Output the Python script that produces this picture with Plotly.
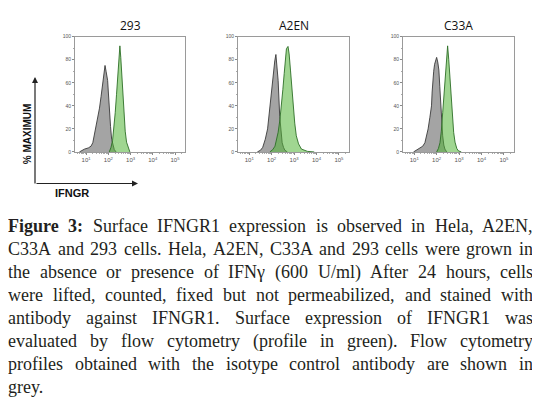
import plotly.graph_objects as go

# panels: cell line names
panels = ["293", "A2EN", "C33A"]

# isotype control profiles (grey), fluorescence intensity vs % of max
iso_x = [
    [5, 8.5, 12.6, 16.6, 20, 23.4, 26, 33, 40, 47, 56, 63, 71, 79, 93, 100, 110, 126, 141, 158, 186, 224],
    [23, 32, 40, 52, 66, 83, 100, 117, 138, 155, 174, 195, 229, 263, 295, 339, 389, 501],
    [9.3, 12.6, 18.2, 24, 30, 35.5, 41.7, 50, 59, 63, 69, 74, 81, 89, 100, 112, 126, 138, 151, 166, 186, 209, 234, 282],
]
iso_y = [
    [0, 2.5, 3.5, 5, 8, 14.5, 17, 28, 38, 48, 58, 68, 75, 70, 62, 52, 37, 22, 11, 6, 2, 0],
    [0, 1.5, 4, 11, 20, 40, 55, 68, 79, 84.5, 75, 62, 31, 17, 8, 4, 1.5, 0],
    [0, 1.5, 3, 5, 8, 13, 20, 30, 40, 52, 68, 70, 76, 80, 82, 78, 71, 57, 42.5, 28, 14, 6, 2.5, 0],
]

# IFNGR1 stained profiles (green)
ifn_x = [
    [110, 132, 155, 178, 204, 234, 263, 295, 331, 363, 398, 447, 501, 575, 661, 794, 933],
    [83, 112, 141, 195, 234, 275, 316, 363, 417, 457, 537, 603, 692, 794, 912, 1072, 1259, 1585, 2138, 3981, 7943],
    [100, 120, 141, 162, 186, 209, 234, 269, 309, 347, 389, 437, 501, 575, 661, 794, 933, 1259],
]
ifn_y = [
    [0, 4, 10, 20, 34, 50, 65, 80, 92, 82, 68, 50, 31, 18, 8.5, 3, 0],
    [0, 2, 5, 17, 28, 40, 54, 68, 80, 89.5, 91.5, 85, 71, 55, 40, 25, 14, 7, 2.5, 0.5, 0],
    [0, 3, 8, 18, 34, 48, 62, 80, 92, 80, 65, 48, 31, 17, 8.5, 3, 1, 0],
]

x_tickvals = [10, 100, 1000, 10000, 100000]
x_ticktext = ["10<sup>1</sup>", "10<sup>2</sup>", "10<sup>3</sup>", "10<sup>4</sup>", "10<sup>5</sup>"]
y_tickvals = [0, 20, 40, 60, 80, 100]

caption_lines = [
    "Figure 3: Surface IFNGR1 expression is observed in Hela, A2EN,",
    "C33A and 293 cells. Hela, A2EN, C33A and 293 cells were grown in",
    "the absence or presence of IFNγ (600 U/ml) After 24 hours, cells",
    "were lifted, counted, fixed but not permeabilized, and stained with",
    "antibody against IFNGR1. Surface expression of IFNGR1 was",
    "evaluated by flow cytometry (profile in green). Flow cytometry",
    "profiles obtained with the isotype control antibody are shown in",
    "grey.",
]

W, H = 540, 420
OFF = 8  # the page body margin pushes the figure 8px right and down


def px(x):
    return (x - OFF) / W


def py(y):
    return 1 - (y - OFF) / H


# Times / Liberation Serif advance widths (per 1000 em) for justifying the caption
REG = {
    " ": 250, "a": 444, "b": 500, "c": 444, "d": 500, "e": 444, "f": 333, "g": 500,
    "h": 500, "i": 278, "j": 278, "k": 500, "l": 278, "m": 778, "n": 500, "o": 500,
    "p": 500, "q": 500, "r": 333, "s": 389, "t": 278, "u": 500, "v": 500, "w": 722,
    "x": 500, "y": 500, "z": 444, "A": 722, "B": 667, "C": 667, "D": 722, "E": 611,
    "F": 556, "G": 722, "H": 722, "I": 333, "N": 722, "R": 667, "S": 556, "U": 722,
    ".": 250, ",": 250, ":": 278, "(": 333, ")": 333, "/": 278, "γ": 450,
}
BOLD = {"F": 611, "i": 278, "g": 500, "u": 556, "r": 444, "e": 444, "3": 500, ":": 333}


def word_width(w, bold, size):
    table = BOLD if bold else REG
    return sum(table.get(c, 500) for c in w) * size / 1000.0


fig = go.Figure()

# pixel boxes of the three plots (screen coordinates)
x_dom_px = [(75, 185), (238, 349), (403, 514)]
y_dom_px = (34, 151)

for i, name in enumerate(panels):
    n = "" if i == 0 else str(i + 1)
    fig.add_trace(go.Scatter(
        x=iso_x[i], y=iso_y[i], mode="lines", fill="tozeroy",
        fillcolor="#a4a4a4", line=dict(color="#3a3a3a", width=0.9),
        xaxis="x" + n, yaxis="y" + n, hoverinfo="skip"))
    fig.add_trace(go.Scatter(
        x=ifn_x[i], y=ifn_y[i], mode="lines", fill="tozeroy",
        fillcolor="rgba(82,180,55,0.55)", line=dict(color="#2c6e26", width=0.9),
        xaxis="x" + n, yaxis="y" + n, hoverinfo="skip"))

    x0, x1 = x_dom_px[i]
    fig.layout["xaxis" + n] = dict(
        type="log", range=[0.5, 5.45], domain=[px(x0), px(x1)], anchor="y" + n,
        showline=True, mirror=True, linecolor="#9a9a9a", linewidth=1,
        ticks="outside", ticklen=2, tickcolor="#888",
        tickvals=x_tickvals, ticktext=x_ticktext,
        tickfont=dict(family="Liberation Sans", size=6, color="#555"),
        showgrid=False, zeroline=False,
        minor=dict(ticks="outside", ticklen=1.5, tickcolor="#aaa", dtick="D1", showgrid=False),
    )
    fig.layout["yaxis" + n] = dict(
        range=[0, 100], domain=[py(y_dom_px[1]), py(y_dom_px[0])], anchor="x" + n,
        showline=True, mirror=True, linecolor="#9a9a9a", linewidth=1,
        ticks="outside", ticklen=2, tickcolor="#888",
        tickvals=y_tickvals, tickfont=dict(family="Liberation Sans", size=5, color="#555"),
        showgrid=False, zeroline=False,
        minor=dict(ticks="outside", ticklen=1.5, tickcolor="#aaa", dtick=10, showgrid=False),
    )
    fig.add_annotation(
        x=px((x0 + x1) / 2), y=py(23), xref="paper", yref="paper",
        xanchor="center", yanchor="middle",
        text=name, showarrow=False,
        font=dict(family="Open Sans", size=12, color="#111"))

# axis arrows
fig.add_annotation(x=px(35), y=py(75), xref="paper", yref="paper", text="",
                   showarrow=True, ax=0, ay=108, arrowhead=2, arrowsize=1,
                   arrowwidth=1.2, arrowcolor="#222")
fig.add_annotation(x=px(138), y=py(183), xref="paper", yref="paper", text="",
                   showarrow=True, ax=-103, ay=0, arrowhead=2, arrowsize=1,
                   arrowwidth=1.2, arrowcolor="#222")
fig.add_annotation(x=px(27), y=py(133), xref="paper", yref="paper",
                   xanchor="center", yanchor="middle",
                   text="<b>% MAXIMUM</b>", textangle=-90, showarrow=False,
                   font=dict(family="Liberation Sans", size=10, color="#111"))
fig.add_annotation(x=px(72), y=py(193), xref="paper", yref="paper",
                   xanchor="center", yanchor="middle",
                   text="<b>IFNGR</b>", showarrow=False,
                   font=dict(family="Liberation Sans", size=11, color="#111"))

# justified caption
cap_size = 18
left_px, right_px = 8, 533
base0, lead = 232.5, 23.3
for li, line in enumerate(caption_lines):
    words = line.split(" ")
    bolds = [li == 0 and wi < 2 for wi in range(len(words))]
    widths = [word_width(w, b, cap_size) for w, b in zip(words, bolds)]
    last = li == len(caption_lines) - 1
    if len(words) > 1 and not last:
        gap = (right_px - left_px - sum(widths)) / (len(words) - 1)
    else:
        gap = REG[" "] * cap_size / 1000.0
    yc = py(base0 + li * lead - 0.33 * cap_size)
    xpos = left_px
    for wi, (w, b, wd) in enumerate(zip(words, bolds, widths)):
        is_end = (wi == len(words) - 1) and not last and len(words) > 1
        fig.add_annotation(
            x=px(right_px if is_end else xpos), y=yc, xref="paper", yref="paper",
            xanchor="right" if is_end else "left", yanchor="middle",
            text="<b>%s</b>" % w if b else w, showarrow=False,
            borderpad=0, borderwidth=0,
            font=dict(family="Liberation Serif", size=cap_size, color="#231f20"))
        xpos += wd + gap

fig.update_layout(
    width=W, height=H, margin=dict(l=0, r=0, t=0, b=0),
    paper_bgcolor="white", plot_bgcolor="white", showlegend=False,
)

fig.write_html("out.html")
